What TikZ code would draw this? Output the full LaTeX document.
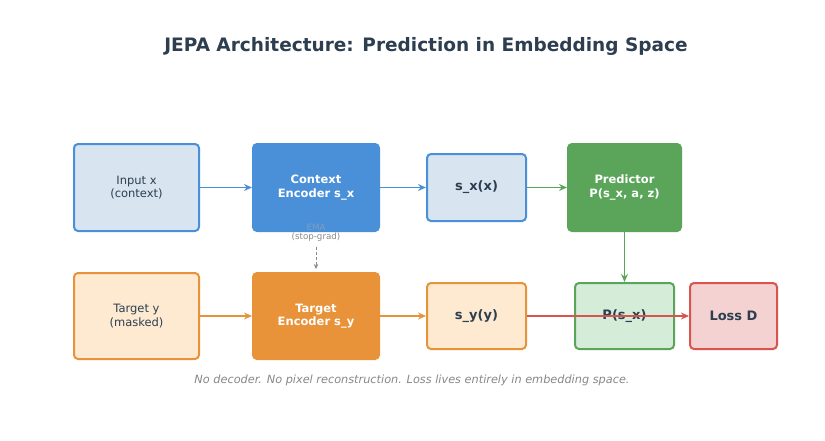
\documentclass[tikz,border=0pt]{standalone}
\usepackage{fontspec}
\setmainfont{DejaVu Sans}
\usetikzlibrary{arrows.meta}
\definecolor{txt}{HTML}{2C3E50}
\definecolor{bl}{HTML}{4A90D9}
\definecolor{bll}{HTML}{D8E5F1}
\definecolor{gr}{HTML}{5BA55A}
\definecolor{grl}{HTML}{D5ECD9}
\definecolor{or}{HTML}{E8923A}
\definecolor{orl}{HTML}{FDEAD0}
\definecolor{rd}{HTML}{D9534F}
\definecolor{rdl}{HTML}{F5D2D2}
\definecolor{gy}{HTML}{888888}
\begin{document}
\begin{tikzpicture}[x=1pt,y=-1pt,
  box/.style={rounded corners=4pt,line width=2pt,align=center,font=\fontsize{11.5}{13.5}\selectfont,text=txt,inner sep=0pt},
  bbox/.style={box,font=\fontsize{11.5}{13.5}\selectfont\bfseries,text=white},
  lbl/.style={font=\fontsize{13}{15}\selectfont\bfseries},
  arr/.style={-{Stealth[length=8pt,width=7pt]},line width=1.8pt}]
\useasboundingbox[fill=white] (0,0) rectangle (825,440);
\node[font=\fontsize{18.5}{22}\selectfont\bfseries,text=txt] (title) at (426,46) {JEPA Architecture: Prediction in Embedding Space};
\node[box,draw=bl,fill=bll,minimum width=125pt,minimum height=87pt] (in) at (136.5,187.5) {Input x\\(context)};
\node[bbox,draw=bl,fill=bl,minimum width=126pt,minimum height=87pt] (ce) at (316,187.5) {Context\\Encoder s\_x};
\node[font=\fontsize{8.7}{10}\selectfont,text=bl!55!gy!85!white] (ema) at (316,227) {EMA};
\node[text=gy,font=\fontsize{8.7}{10}\selectfont] (sg) at (316,237.5) {(stop-grad)};
\node[box,lbl,draw=bl,fill=bll,minimum width=99pt,minimum height=67pt] (sx) at (476.5,187.5) {s\_x(x)};
\node[bbox,draw=gr,fill=gr,minimum width=113pt,minimum height=87pt] (pr) at (624.5,187.5) {Predictor\\P(s\_x, a, z)};
\node[box,draw=or,fill=orl,minimum width=125pt,minimum height=86pt] (ty) at (136.5,316) {Target y\\(masked)};
\node[bbox,draw=or,fill=or,minimum width=126pt,minimum height=86pt] (te) at (316,316) {Target\\Encoder s\_y};
\node[box,lbl,draw=or,fill=orl,minimum width=99pt,minimum height=66pt] (sy) at (476.5,316) {s\_y(y)};
\node[box,lbl,draw=gr,fill=grl,minimum width=99pt,minimum height=66pt] (ps) at (624.5,316) {P(s\_x)};
\node[box,lbl,draw=rd,fill=rdl,minimum width=87pt,minimum height=66pt] (ld) at (733.5,316) {Loss D};
\draw[arr,bl] (in) -- (ce);
\draw[arr,bl] (ce) -- (sx);
\draw[arr,gr] (sx) -- (pr);
\draw[arr,gr] (pr) -- (ps);
\draw[arr,or] (ty) -- (te);
\draw[arr,or] (te) -- (sy);
\draw[arr,rd] (sy) -- (ld);
\coordinate (sgs) at (316,247);
\coordinate (tet) at (316,269);
\draw[-{Stealth[length=5pt,width=4.5pt]},gy,line width=1pt,dash pattern=on 3pt off 2pt] (sgs) -- (tet);
\node[text=gy,font=\fontsize{11.3}{13}\selectfont\itshape] (cap) at (412,380) {No decoder. No pixel reconstruction. Loss lives entirely in embedding space.};
\end{tikzpicture}
\end{document}
